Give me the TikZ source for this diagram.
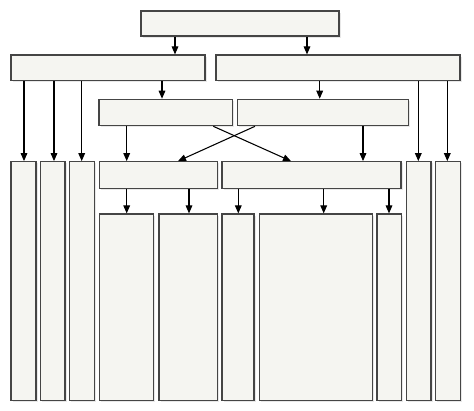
\documentclass[tikz,border=0pt]{standalone}
\usetikzlibrary{arrows.meta,fit,shadows}
\definecolor{boxfill}{HTML}{F5F5F1}
\definecolor{boxline}{HTML}{454545}
\tikzset{
  box/.style={draw=boxline, fill=boxfill, line width=0.9pt, inner sep=0pt, rectangle,
    drop shadow={shadow xshift=1.2pt, shadow yshift=-1.2pt, opacity=0.18, fill=gray}},
  arr/.style={draw=black, line width=0.8pt, -{Triangle[length=6pt,width=5pt]}},
}
\begin{document}
\begin{tikzpicture}[x=0.75pt,y=-0.75pt]
\useasboundingbox (0,0) rectangle (474,410);
% row 1
\node[box, fit={(141,11) (339,36)}] (top) {};
% row 2
\node[box, fit={(11,55) (205,80.7)}] (L) {};
\node[box, fit={(216,55) (460,80.7)}] (R) {};
% row 3
\node[box, fit={(99,99.3) (232.7,125.7)}] (LM) {};
\node[box, fit={(237.3,99.3) (408.3,125.7)}] (RM) {};
% row 4
\node[box, fit={(11,161.7) (36,400.7)}] (b1) {};
\node[box, fit={(40.3,161.7) (65,400.7)}] (b2) {};
\node[box, fit={(69.3,161.7) (94.3,400.7)}] (b3) {};
\node[box, fit={(99.7,161.7) (217.7,188.3)}] (LW) {};
\node[box, fit={(222,161.7) (401,188.3)}] (RW) {};
\node[box, fit={(406.3,161.7) (431,400.7)}] (b4) {};
\node[box, fit={(435.7,161.7) (460.3,400.7)}] (b5) {};
% row 5
\node[box, fit={(99.7,214) (153.7,400.7)}] (c1) {};
\node[box, fit={(159,214) (217.7,400.7)}] (c2) {};
\node[box, fit={(222,214) (254,400.7)}] (c3) {};
\node[box, fit={(259.3,214) (372.3,400.7)}] (c4) {};
\node[box, fit={(377,214) (401.7,400.7)}] (c5) {};
% arrows
\draw[arr] (175,0 |- top.south) -- (175,0 |- L.north);
\draw[arr] (307,0 |- top.south) -- (307,0 |- R.north);
\draw[arr] (24,0 |- L.south) -- (24,0 |- b1.north);
\draw[arr] (54,0 |- L.south) -- (54,0 |- b2.north);
\draw[arr] (81.7,0 |- L.south) -- (81.7,0 |- b3.north);
\draw[arr] (162,0 |- L.south) -- (162,0 |- LM.north);
\draw[arr] (319.7,0 |- R.south) -- (319.7,0 |- RM.north);
\draw[arr] (418.3,0 |- R.south) -- (418.3,0 |- b4.north);
\draw[arr] (447.3,0 |- R.south) -- (447.3,0 |- b5.north);
\draw[arr] (126.7,0 |- LM.south) -- (126.7,0 |- LW.north);
\draw[arr] (363,0 |- RM.south) -- (363,0 |- RW.north);
\draw[arr] (213.3,0 |- LM.south) -- (291,0 |- RW.north);
\draw[arr] (255,0 |- RM.south) -- (178,0 |- LW.north);
\draw[arr] (126.7,0 |- LW.south) -- (126.7,0 |- c1.north);
\draw[arr] (189,0 |- LW.south) -- (189,0 |- c2.north);
\draw[arr] (238.3,0 |- RW.south) -- (238.3,0 |- c3.north);
\draw[arr] (323.7,0 |- RW.south) -- (323.7,0 |- c4.north);
\draw[arr] (389,0 |- RW.south) -- (389,0 |- c5.north);
\end{tikzpicture}
\end{document}
